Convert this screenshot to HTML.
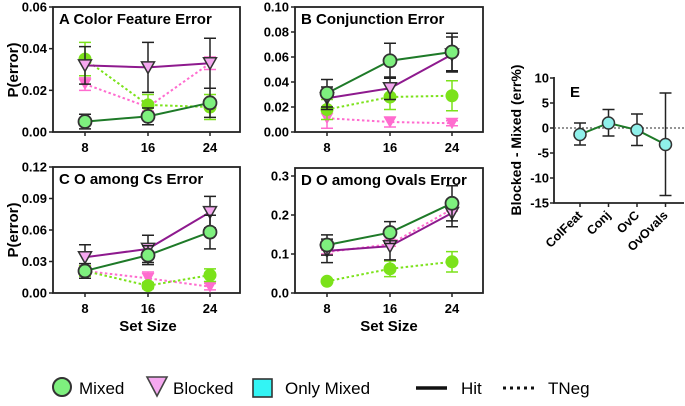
<!DOCTYPE html>
<html><head><meta charset="utf-8"><style>
body{margin:0;background:#fff;width:685px;height:401px;overflow:hidden;font-family:"Liberation Sans",Arial,sans-serif}
svg text{font-family:"Liberation Sans",Arial,sans-serif;font-weight:bold}
</style></head><body>
<svg id="c" width="685" height="401" viewBox="0 0 685 401" xmlns="http://www.w3.org/2000/svg"></svg>
<script>
const setSizes=[8,16,24];
// Panel A
const aMixHit=[0.005,0.0075,0.014], aMixHitErr=[0.0035,0.004,0.007];
const aBlkHit=[0.032,0.031,0.033], aBlkHitErr=[0.009,0.012,0.012];
const aMixTN=[0.035,0.013,0.012], aMixTNErr=[0.008,0.005,0.006];
const aBlkTN=[0.023,0.012,0.033], aBlkTNErr=[0.003,0.002,0.003];
// Panel B
const bMixHit=[0.031,0.057,0.064], bMixHitErr=[0.011,0.014,0.015];
const bBlkHit=[0.027,0.035,0.062], bBlkHitErr=[0.009,0.009,0.014];
const bMixTN=[0.018,0.028,0.029], bMixTNErr=[0.008,0.01,0.012];
const bBlkTN=[0.011,0.008,0.007], bBlkTNErr=[0.008,0.004,0.002];
// Panel C
const cMixHit=[0.021,0.036,0.058], cMixHitErr=[0.007,0.009,0.016];
const cBlkHit=[0.034,0.042,0.077], cBlkHitErr=[0.012,0.013,0.015];
const cMixTN=[0.021,0.007,0.017], cMixTNErr=[0.005,0.003,0.006];
const cBlkTN=[0.021,0.014,0.006], cBlkTNErr=[0.005,0.006,0.003];
// Panel D
const dMixHit=[0.123,0.155,0.23], dMixHitErr=[0.026,0.028,0.045];
const dBlkHit=[0.108,0.12,0.205], dBlkHitErr=[0.03,0.035,0.035];
const dMixTN=[0.03,0.062,0.08], dMixTNErr=[0.003,0.02,0.026];
const dBlkTN=[0.105,0.125,0.215], dBlkTNErr=[0.005,0.005,0.005];
// Panel E
const eCats=["ColFeat","Conj","OvC","OvOvals"];
const eVals=[-1.3,1,-0.4,-3.3], eLo=[-3.4,-1.6,-3.5,-13.5], eHi=[1,3.7,2.8,7];
const eTicks=[10,5,0,-5,-10,-15];
const tickA=["0.00","0.02","0.04","0.06"], tickB=["0.00","0.02","0.04","0.06","0.08","0.10"];
const tickC=["0.00","0.03","0.06","0.09","0.12"], tickD=["0.0","0.1","0.2","0.3"];

const svg=document.getElementById('c');const NS="http://www.w3.org/2000/svg";
function el(t,a,p){const e=document.createElementNS(NS,t);for(const k in a)e.setAttribute(k,a[k]);(p||svg).appendChild(e);return e;}
const GD="#1e7a28",PU="#8e1a8e",LG="#7ef07e",LI="#7be21a",PK="#ff6ccf",PKF="#f5a8f0";

function panel(name,letter,title,x0,x1,yTop,yBot,yMax,yAxTop,ticks,series){
  const g=el('g',{});
  
  
  const xs=v=>({8:x0+32,16:x0+95,24:x0+157})[v];
  const ys=v=>yBot-(v/yMax)*(yBot-yAxTop);
  const box=el('rect',{x:x0,y:yTop,width:x1-x0,height:yBot-yTop,fill:'none',stroke:'#222','stroke-width':1.8},g);
  
  ticks.forEach((t,i)=>{const v=parseFloat(t);const y=ys(v);
    el('line',{x1:x0-4,x2:x0,y1:y,y2:y,stroke:'#222','stroke-width':1.5},g);
    const tx=el('text',{x:x0-6,y:y+4.5,'text-anchor':'end','font-size':13},g);tx.textContent=t;
    });
  setSizes.forEach(s=>{el('line',{x1:xs(s),x2:xs(s),y1:yBot,y2:yBot+4,stroke:'#222','stroke-width':1.5},g);
    const tx=el('text',{x:xs(s),y:yBot+20,'text-anchor':'middle','font-size':13},g);tx.textContent=s;
    });
  const tt=el('text',{x:x0+6,y:yTop+17,'font-size':15},g);tt.textContent=letter+'  '+title;
  
  series.forEach(S=>{
    const sg=el('g',{},g);
    
    const pts=S.v.map((v,i)=>xs(setSizes[i])+','+ys(v)).join(' ');
    el('polyline',{points:pts,fill:'none',stroke:S.lc,'stroke-width':2,'stroke-dasharray':S.dash?'2.5,2.5':'none'},sg);
    S.v.forEach((v,i)=>{const x=xs(setSizes[i]);const lo=ys(v-S.e[i]),hi=ys(v+S.e[i]);
      el('path',{d:`M${x},${lo}V${hi}M${x-6},${lo}H${x+6}M${x-6},${hi}H${x+6}`,stroke:S.ec,'stroke-width':1.5,fill:'none'},sg);
      const y=ys(v);let m;
      if(S.m==='c')m=el('circle',{cx:x,cy:y,r:6.5,fill:S.f,stroke:S.ms,'stroke-width':S.ms==='none'?0:1.8},sg);
      else m=el('path',{d:`M${x-6.5},${y-5.5}L${x+6.5},${y-5.5}L${x},${y+6}Z`,fill:S.f,stroke:S.ms,'stroke-width':S.ms==='none'?0:1.5},sg);
      });
  });
}
function ser(mh,mhe,bh,bhe,mt,mte,bt,bte){return [
 {n:'blocked-tneg',v:bt,e:bte,lc:PK,dash:1,ec:PK,m:'t',f:PK,ms:'none'},
 {n:'mixed-tneg',v:mt,e:mte,lc:LI,dash:1,ec:LI,m:'c',f:LI,ms:'none'},
 {n:'blocked-hit',v:bh,e:bhe,lc:PU,dash:0,ec:'#222',m:'t',f:PKF,ms:'#333'},
 {n:'mixed-hit',v:mh,e:mhe,lc:GD,dash:0,ec:'#222',m:'c',f:LG,ms:'#333'}];}
panel('a','A','Color Feature Error',53,240,7,132,0.06,7,tickA,ser(aMixHit,aMixHitErr,aBlkHit,aBlkHitErr,aMixTN,aMixTNErr,aBlkTN,aBlkTNErr));
panel('b','B','Conjunction Error',295,483,7,132,0.10,7,tickB,ser(bMixHit,bMixHitErr,bBlkHit,bBlkHitErr,bMixTN,bMixTNErr,bBlkTN,bBlkTNErr));
panel('c','C','O among Cs Error',53,240,167,293,0.12,167,tickC,ser(cMixHit,cMixHitErr,cBlkHit,cBlkHitErr,cMixTN,cMixTNErr,cBlkTN,cBlkTNErr));
panel('d','D','O among Ovals Error',295,483,168,293,0.3,176,tickD,ser(dMixHit,dMixHitErr,dBlkHit,dBlkHitErr,dMixTN,dMixTNErr,dBlkTN,dBlkTNErr));

function rtext(x,y,t,name,size){const tx=el('text',{x:x,y:y,'text-anchor':'middle','font-size':size||15,transform:`rotate(-90 ${x} ${y})`});tx.textContent=t;
  }
rtext(18,70,'P(error)','y-axis-title-a');rtext(18,230,'P(error)','y-axis-title-c');
[[148,'x-axis-title-c'],[389,'x-axis-title-d']].forEach(([x,n])=>{const t=el('text',{x:x,y:331,'text-anchor':'middle','font-size':15});t.textContent='Set Size';});

// Panel E
(function(){
 const g=el('g',{});
 const x0=554,x1=684,yT=78,yB=203;const ys=v=>yT+(10-v)/25*(yB-yT);const xs=i=>580+i*28.5;
 el('path',{d:`M${x0},${yT-1}V${yB}H${x1}`,stroke:'#222','stroke-width':1.8,fill:'none'},g);
 eTicks.forEach(t=>{const y=ys(t);el('line',{x1:x0-4,x2:x0,y1:y,y2:y,stroke:'#222','stroke-width':1.5},g);
  const tx=el('text',{x:x0-5,y:y+4.5,'text-anchor':'end','font-size':13},g);tx.textContent=t;
  });
 el('line',{x1:x0,x2:x1,y1:ys(0),y2:ys(0),stroke:'#555','stroke-width':1.2,'stroke-dasharray':'2,2'},g);
 const tt=el('text',{x:570,y:97,'font-size':15},g);tt.textContent='E';
 el('polyline',{points:eVals.map((v,i)=>xs(i)+','+ys(v)).join(' '),fill:'none',stroke:GD,'stroke-width':2},g);
 eCats.forEach((c,i)=>{const x=xs(i);
  el('line',{x1:x,x2:x,y1:yB,y2:yB+4,stroke:'#222','stroke-width':1.5},g);
  const tx=el('text',{x:x+3,y:yB+13,'text-anchor':'end','font-size':12.5,transform:`rotate(-45 ${x+3} ${yB+13})`},g);tx.textContent=c;
  
  const lo=ys(eLo[i]),hi=ys(eHi[i]);
  el('path',{d:`M${x},${lo}V${hi}M${x-6},${lo}H${x+6}M${x-6},${hi}H${x+6}`,stroke:'#222','stroke-width':1.5,fill:'none'},g);
  const m=el('circle',{cx:x,cy:ys(eVals[i]),r:6,fill:'#8ff0ea',stroke:'#333','stroke-width':1.5},g);
  });
 rtext(521,140,'Blocked - Mixed (err%)','y-axis-title-e',14);
})();

// Legend
(function(){
 const g=el('g',{});
 const LY=387;
 function entry(name,x,label,draw){const eg=el('g',{},g);draw(eg);
  const t=el('text',{x:x,y:LY+7,'font-size':17},eg);t.style.fontWeight='normal';t.textContent=label;}
 entry('legend-mixed',79,'Mixed',e=>el('circle',{cx:62,cy:LY,r:9,fill:LG,stroke:'#333','stroke-width':2},e));
 entry('legend-blocked',173,'Blocked',e=>el('path',{d:`M147,${LY-10}L167,${LY-10}L157,${LY+9}Z`,fill:PKF,stroke:'#444','stroke-width':1.6},e));
 entry('legend-only-mixed',285,'Only Mixed',e=>el('rect',{x:253,y:LY-8,width:19,height:18,fill:'#33f4f4',stroke:'#333','stroke-width':1.6},e));
 entry('legend-hit',461,'Hit',e=>el('line',{x1:416,x2:447,y1:LY+1,y2:LY+1,stroke:'#111','stroke-width':3.5},e));
 entry('legend-tneg',548,'TNeg',e=>el('line',{x1:503,x2:537,y1:LY+1,y2:LY+1,stroke:'#111','stroke-width':3,'stroke-dasharray':'3,4'},e));
})();
</script>
</body></html>
